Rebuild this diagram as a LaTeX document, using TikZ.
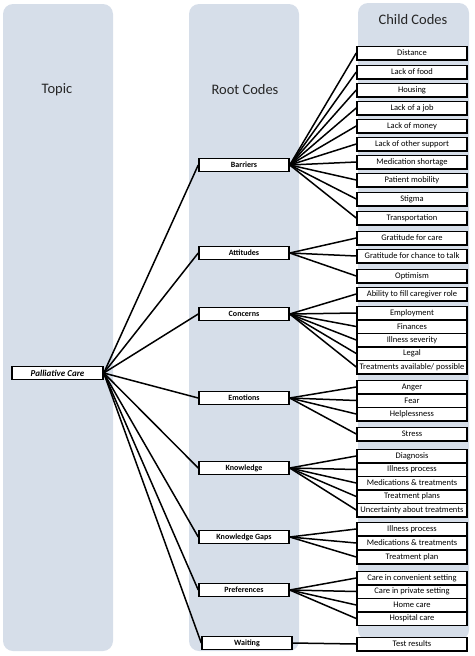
\documentclass[tikz,border=0pt]{standalone}
\usepackage{fontspec}
\setmainfont{Carlito}
\usetikzlibrary{positioning}
\definecolor{panel}{RGB}{214,222,233}

\tikzset{
  panelbox/.style={fill=panel,rounded corners=10pt},
  heading/.style={font=\fontsize{14.5}{16}\selectfont,text=black!85},
  rootbox/.style={draw,fill=white,line width=1.5pt,minimum width=90pt,minimum height=13pt,inner sep=0pt,font=\fontsize{8}{9}\selectfont\bfseries},
  childbox/.style={draw,fill=white,line width=1.5pt,minimum width=110pt,minimum height=13.5pt,inner sep=0pt,font=\fontsize{8.5}{9}\selectfont},
  link/.style={line width=1.5pt}
}

\begin{document}
\begin{tikzpicture}[x=1pt,y=-1pt]
        \useasboundingbox (0,0) rectangle (474,656);

        % columns
        \fill[panelbox] (3,4) rectangle (113,651);
        \fill[panelbox] (189,4) rectangle (299,651);
        \fill[panelbox] (358,3) rectangle (469,640);
        \node[heading] (topic) at (57,90) {Topic};
        \node[heading] (roots) at (245,90) {Root Codes};
        \node[heading] (childs) at (413,20) {Child Codes};

        % topic
        \node[rootbox,minimum width=91pt,font=\fontsize{9}{10}\selectfont\bfseries\itshape] (care) at (57.5,373) {Palliative Care};

        % root codes
        \node[rootbox] (barriers) at (244,165) {Barriers};
        \node[rootbox] (attitudes) at (244,253) {Attitudes};
        \node[rootbox] (concerns) at (244,314) {Concerns};
        \node[rootbox] (emotions) at (244,398) {Emotions};
        \node[rootbox] (knowledge) at (244,468) {Knowledge};
        \node[rootbox] (gaps) at (244,537) {Knowledge Gaps};
        \node[rootbox] (prefs) at (244,590) {Preferences};
        \node[rootbox] (waiting) at (247,643) {Waiting};

        % child codes
        \node[childbox] (distance) at (412,53) {Distance};
        \node[childbox] (food) at (412,72) {Lack of food};
        \node[childbox] (housing) at (412,90) {Housing};
        \node[childbox] (job) at (412,108) {Lack of a job};
        \node[childbox] (money) at (412,126) {Lack of money};
        \node[childbox] (support) at (412,144) {Lack of other support};
        \node[childbox] (shortage) at (412,162) {Medication shortage};
        \node[childbox] (mobility) at (412,180) {Patient mobility};
        \node[childbox] (stigma) at (412,199) {Stigma};
        \node[childbox] (transport) at (412,218) {Transportation};

        \node[childbox] (grcare) at (412,238) {Gratitude for care};
        \node[childbox] (grtalk) at (412,256) {Gratitude for chance to talk};
        \node[childbox] (optimism) at (412,276) {Optimism};

        \node[childbox] (ability) at (412,294) {Ability to fill caregiver role};
        \node[childbox] (employ) at (412,313) {Employment};
        \node[childbox] (finances) at (412,326.5) {Finances};
        \node[childbox] (severity) at (412,340) {Illness severity};
        \node[childbox] (legal) at (412,353.5) {Legal};
        \node[childbox] (treatavail) at (412,367) {Treatments available/ possible};

        \node[childbox] (anger) at (412,387) {Anger};
        \node[childbox] (fear) at (412,400.5) {Fear};
        \node[childbox] (helpless) at (412,414) {Helplessness};
        \node[childbox] (stress) at (412,434) {Stress};

        \node[childbox] (diagnosis) at (412,456) {Diagnosis};
        \node[childbox] (process) at (412,469.5) {Illness process};
        \node[childbox] (meds) at (412,483) {Medications \& treatments};
        \node[childbox] (plans) at (412,496.5) {Treatment plans};
        \node[childbox] (uncertain) at (412,510) {Uncertainty about treatments};

        \node[childbox] (gprocess) at (412,529) {Illness process};
        \node[childbox] (gmeds) at (412,543) {Medications \& treatments};
        \node[childbox] (gplan) at (412,557) {Treatment plan};

        \node[childbox] (convenient) at (412,578) {Care in convenient setting};
        \node[childbox] (private) at (412,591.5) {Care in private setting};
        \node[childbox] (home) at (412,605) {Home care};
        \node[childbox] (hospital) at (412,618.5) {Hospital care};

        \node[childbox] (tests) at (412,644) {Test results};

        % links topic -> roots
        \path[link] (care.east) edge (barriers.west) edge (attitudes.west) edge (concerns.west)
            edge (emotions.west) edge (knowledge.west) edge (gaps.west) edge (prefs.west) edge (waiting.west);

        % links roots -> children
        \path[link] (barriers.east) edge (distance.west) edge (food.west) edge (housing.west) edge (job.west)
            edge (money.west) edge (support.west) edge (shortage.west) edge (mobility.west)
            edge (stigma.west) edge (transport.west);
        \path[link] (attitudes.east) edge (grcare.west) edge (grtalk.west) edge (optimism.west);
        \path[link] (concerns.east) edge (ability.west) edge (employ.west) edge (finances.west)
            edge (severity.west) edge (legal.west) edge (treatavail.west);
        \path[link] (emotions.east) edge (anger.west) edge (fear.west) edge (helpless.west) edge (stress.west);
        \path[link] (knowledge.east) edge (diagnosis.west) edge (process.west) edge (meds.west)
            edge (plans.west) edge (uncertain.west);
        \path[link] (gaps.east) edge (gprocess.west) edge (gmeds.west) edge (gplan.west);
        \path[link] (prefs.east) edge (convenient.west) edge (private.west) edge (home.west) edge (hospital.west);
        \path[link] (waiting.east) edge (tests.west);
    \end{tikzpicture}
\end{document}
